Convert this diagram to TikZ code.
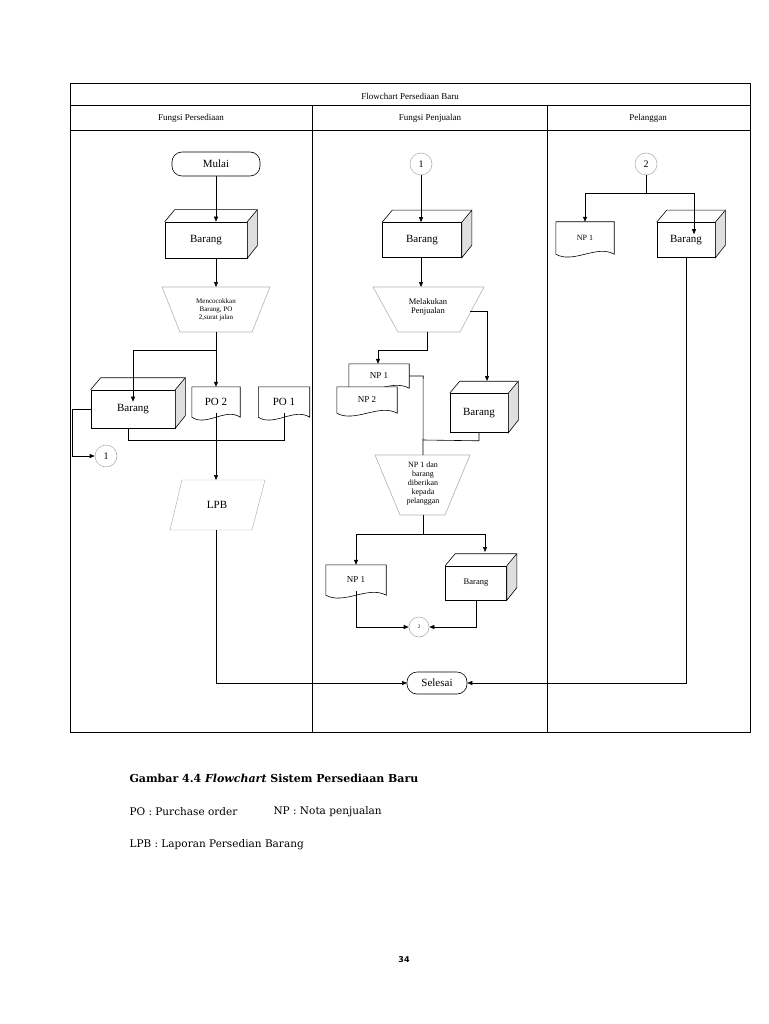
\documentclass[tikz,border=0pt]{standalone}
\usepackage{fontspec}
\setmainfont{Liberation Serif}
\newfontfamily\capfont{DejaVu Serif}
\newfontfamily\numfont{DejaVu Sans}
\usetikzlibrary{arrows.meta}
\tikzset{
  ln/.style={draw=black,line width=0.6pt},
  arr/.style={ln,-{Triangle[length=5pt,width=4pt]}},
  box/.style={draw,line width=0.6pt,fill=white,inner sep=0pt,font=\fontsize{11}{12}\selectfont},
  term/.style={draw,line width=0.6pt,rounded corners=10pt,inner sep=0pt,font=\fontsize{11}{12}\selectfont},
  conn/.style={circle,draw=gray!60,line width=0.6pt,inner sep=0pt,font=\fontsize{10}{11}\selectfont},
  small/.style={font=\fontsize{7}{8}\selectfont,align=center},
  hd/.style={font=\fontsize{9}{10}\selectfont},
}
% 3D box: name, cx, cy, w, h, text
\newcommand\cubenode[6]{%
  \node[box,minimum width=#4pt,minimum height=#5pt] (#1) at (#2,#3) {#6};
  \draw[line width=0.6pt,fill=gray!25] (#1.north east) -- ++(10,-12) -- ++(0,#5) -- (#1.south east) -- cycle;
  \draw[line width=0.6pt] (#1.north west) -- ++(10,-12) -- ++(#4,0);
}
% document: name, cx, cy, w, h, text
\newcommand\docnode[6]{%
  \node[inner sep=0pt,minimum width=#4pt,minimum height=#5pt] (#1) at (#2,#3) {};
  \draw[line width=0.6pt,fill=white] (#1.south west) -- (#1.north west) -- (#1.north east) -- (#1.south east)
    .. controls ++(-0.3*#4,-10) and ++(0.3*#4,10) .. (#1.south west);
  \node[font=\fontsize{11}{12}\selectfont] at (#1) {#6};
}
\begin{document}
\begin{tikzpicture}[x=1pt,y=-1pt]
\useasboundingbox (0,0) rectangle (768,1024);
% frame and lanes
\draw[line width=0.6pt] (70,83) rectangle (750,732);
\draw[line width=0.6pt] (70,105) -- (750,105) (70,130) -- (750,130);
\draw[line width=0.6pt] (312,105) -- (312,732) (547,105) -- (547,732);
\node[hd] at (410,96) {Flowchart Persediaan Baru};
\node[hd] at (191,118) {Fungsi Persediaan};
\node[hd] at (430,118) {Fungsi Penjualan};
\node[hd] at (648,118) {Pelanggan};

% ---- Fungsi Persediaan
\node[term,minimum width=88pt,minimum height=24pt] (mulai) at (216,164) {Mulai};
\cubenode{brg1}{206}{240}{82}{36}{Barang}
\node[small] (cocok) at (216,310) {Mencocokkan\\Barang, PO\\2,surat jalan};
\draw[draw=gray!60,line width=0.6pt] (162,287) -- (270,287) -- (252,332) -- (180,332) -- cycle;
\coordinate (cocokb) at (216,332);
\cubenode{brg2}{133}{409}{84}{38}{Barang}
\docnode{po2}{216}{402}{48}{30}{PO 2}
\docnode{po1}{284}{402}{51}{30}{PO 1}
\node[conn,minimum size=22pt] (c1a) at (106,456) {1};
\node[inner sep=0pt,minimum width=80pt,minimum height=50pt,font=\fontsize{11}{12}\selectfont] (lpb) at (217,505) {LPB};
\draw[line width=0.4pt,draw=gray!70] (182,480) -- (265,480) -- (252,530) -- (170,530) -- cycle;

\draw[arr] (mulai) -- (brg1.north -| mulai);
\draw[arr] (brg1.south -| mulai) -- (216,287);
\draw[arr] (cocokb) -- (po2.north);
\draw[arr] (cocokb) -- ++(0,18) -| ([yshift=-12]brg2.north);
\draw[ln] ([xshift=-5]brg2.south) -- ++(0,12) -| ([yshift=4]po1.south);
\draw[arr] (brg2.west) -- ++(-18,0) |- (c1a);
\draw[arr] ([yshift=4]po2.south) -- (216,480);
\draw[arr] (216,530) |- (407,683);

% ---- Fungsi Penjualan
\node[conn,minimum size=22pt] (c1b) at (421,164) {1};
\cubenode{brg3}{422}{240}{79}{35}{Barang}
\node[small,font=\fontsize{8.5}{9.5}\selectfont] at (428,307) {Melakukan\\Penjualan};
\draw[draw=gray!60,line width=0.6pt] (373,287) -- (484,287) -- (460,332) -- (398,332) -- cycle;
\coordinate (jualb) at (427,332);
\coordinate (jualr) at (470,311);
\docnode{np1a}{379}{376}{60}{24}{\fontsize{9}{10}\selectfont NP 1}
\docnode{np2}{367}{400}{60}{26}{\fontsize{9}{10}\selectfont NP 2}
\cubenode{brg4}{479}{413}{58}{39}{Barang}
\node[small,font=\fontsize{8}{9}\selectfont] at (423,484) {NP 1 dan\\barang\\diberikan\\kepada\\pelanggan};
\draw[draw=gray!60,line width=0.6pt] (375,455) -- (470,455) -- (445,515) -- (400,515) -- cycle;
\coordinate (berib) at (423,515);
\docnode{np1b}{356}{580}{60}{30}{\fontsize{9}{10}\selectfont NP 1}
\cubenode{brg5}{476}{583}{61}{34}{\fontsize{8.5}{9}\selectfont Barang}
\node[conn,minimum size=20pt,font=\fontsize{5}{6}\selectfont] (c2a) at (419,627) {2};
\node[term,minimum width=60pt,minimum height=22pt] (selesai) at (437,683) {Selesai};

\draw[arr] (c1b) -- (brg3.north -| c1b);
\draw[arr] (brg3.south -| c1b) -- (421,287);
\draw[arr] (jualb) -- ++(0,18) -| (np1a.north -| 378,0);
\draw[arr] (jualr) -- ++(17,0) -- (487,381);
\draw[ln] (np1a.east) -- ++(14,0) -- (423,455);
\draw[ln] (brg4.south) -- ++(0,8) -- (423,440);
\draw[ln] (berib) -- (423,534);
\draw[arr] (423,534) -| (np1b.north);
\draw[arr] (423,534) -| (485,552);
\draw[arr] ([yshift=4]np1b.south) |- (c2a);
\draw[arr] (brg5.south) |- (c2a);

% ---- Pelanggan
\node[conn,minimum size=22pt] (c2b) at (646,164) {2};
\docnode{np1c}{585}{238}{58}{32}{\fontsize{8}{9}\selectfont NP 1}
\cubenode{brg6}{686}{240}{58}{35}{Barang}
\draw[ln] (c2b) -- (646,193);
\draw[arr] (646,193) -| (np1c.north);
\draw[arr] (646,193) -| ([yshift=-12,xshift=8]brg6.north);
\draw[arr] (brg6.south) |- (selesai.east);

% ---- caption
\node[anchor=west,font=\capfont\bfseries\fontsize{11}{13}\selectfont] at (126,778) {Gambar 4.4 \textit{Flowchart} Sistem Persediaan Baru};
\node[anchor=west,font=\capfont\fontsize{10.5}{12}\selectfont] at (126,812) {PO : Purchase order};
\node[anchor=west,font=\capfont\fontsize{10.5}{12}\selectfont] at (270,812) {NP : Nota penjualan};
\node[anchor=west,font=\capfont\fontsize{10.5}{12}\selectfont] at (126,845) {LPB : Laporan Persedian Barang};
\node[font=\numfont\bfseries\fontsize{8}{9}\selectfont] at (404,960) {34};
\end{tikzpicture}
\end{document}
